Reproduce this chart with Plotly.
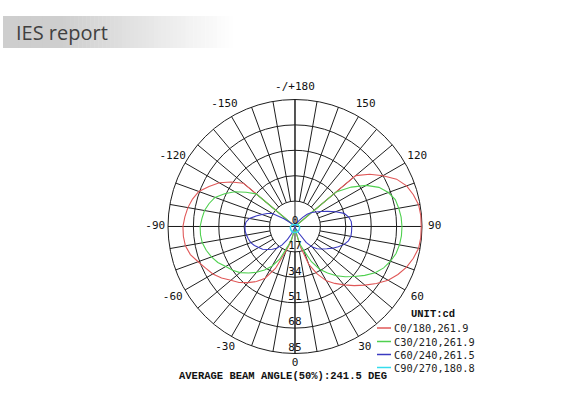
import plotly.graph_objects as go

# ---------------- data ----------------
angles = list(range(-180, 185, 5))

c0_180 = [0, 0, 0, 0, 0, 0, 0, 0, 0, 0,
          45, 52, 58.5, 63.5, 68.5, 71, 72.8, 74, 75, 75, 74.5, 72.5, 69, 66, 63.5, 60, 56, 53, 49, 45, 40, 31, 17, 10, 3, 1,
          0,
          1, 4, 14, 27, 35, 42, 46.5, 51, 56, 61, 66.5, 72, 76, 79.5, 82, 84, 84.5, 84.5, 84.5, 84, 82, 79.5, 75, 68, 61, 53,
          0, 0, 0, 0, 0, 0, 0, 0, 0, 0]

c30_210 = [0, 0, 0, 0, 0, 0, 0, 0, 0, 0,
           34, 40, 46.5, 52, 57, 59.5, 61.5, 62.5, 63.5, 63.5, 63, 61.5, 59.5, 57, 53.5, 51, 48, 44, 40, 35.5, 30.5, 24, 14, 9, 3, 1,
           0,
           1, 4, 12, 17, 26, 33, 38, 43, 47.5, 52, 57, 62, 65.5, 68, 70, 71, 71.5, 71.6, 71.3, 70.5, 69.5, 66.5, 62, 55, 46, 36,
           0, 0, 0, 0, 0, 0, 0, 0, 0, 0]

c60_240 = [0, 0, 0, 0, 0, 0, 0, 0,
           1, 2, 4, 9, 17.5, 20.5, 23.5, 27, 31, 33, 33.5, 33.5, 33, 32.3, 31.5, 30, 28, 26.5, 24, 21.5, 19, 15, 10, 5, 1, 0, 0, 0,
           0,
           0, 0.5, 1, 1.5, 2.5, 5, 13, 18, 21, 23.5, 26, 29, 32, 35, 37, 38, 38, 38, 37.8, 36.5, 34, 29, 24, 20, 17, 14.5,
           11.5, 8, 5, 3, 1.5, 0.5,
           0, 0, 0, 0]

c90_angles = [-180, -150, -120, -90, -60, -30, 0, 30, 60, 90, 120, 150, 180]
c90_270 = [1.3, 1.6, 2.3, 3.0, 3.4, 3.9, 4.0, 3.9, 3.4, 3.0, 2.3, 1.6, 1.3]

series_names = ["C0/180,261.9", "C30/210,261.9", "C60/240,261.5", "C90/270,180.8"]
series_colors = ["#e05858", "#4fd04f", "#3a3ac0", "#35dcec"]

ring_values = [17, 34, 51, 68, 85]
radial_labels = [0, 17, 34, 51, 68, 85]
angular_tickvals = [0, 30, 60, 90, 120, 150, 180, 210, 240, 270, 300, 330]
angular_ticktext = ["0", "30", "60", "90", "120", "150", "-/+180",
                    "-150", "-120", "-90", "-60", "-30"]
spoke_angles = list(range(0, 360, 10))

title_text = "IES report"
unit_text = "UNIT:cd"
footer_text = "AVERAGE BEAM ANGLE(50%):241.5 DEG"

# ---------------- figure ----------------
W, H = 562, 399


def px(x):
    return x / W


def py(y):
    return 1 - y / H


R_MAX = 85          # outer ring value
R_AXIS = 95         # radial range (room for the angle labels)
label_r = [91.5, 93.5, 94.5, 93.5, 94.5, 94.5, 93.5, 94.5, 94.5, 93.5, 94.5, 93.5]

fig = go.Figure()

GRID = "#1e1e1e"
# spokes (from first ring to outer ring)
sr, st = [], []
for a in spoke_angles:
    sr += [ring_values[0], R_MAX, None]
    st += [a, a, None]
fig.add_trace(go.Scatterpolar(r=sr, theta=st, mode="lines",
                              line=dict(color=GRID, width=1),
                              hoverinfo="skip", showlegend=False))
# main axes through the centre
fig.add_trace(go.Scatterpolar(r=[R_MAX, 0, R_MAX, None, R_MAX, 0, R_MAX],
                              theta=[0, 0, 180, None, 90, 90, 270],
                              mode="lines", line=dict(color=GRID, width=1),
                              hoverinfo="skip", showlegend=False))

curves = [(angles, c0_180), (angles, c30_210), (angles, c60_240)]
for (th, rr), name, col in zip(curves, series_names[:3], series_colors[:3]):
    fig.add_trace(go.Scatterpolar(r=rr, theta=th, mode="lines", name=name,
                                  line=dict(color=col, width=1.1),
                                  showlegend=False))
fig.add_trace(go.Scatterpolar(r=c90_270, theta=c90_angles, mode="lines",
                              name=series_names[3],
                              line=dict(color=series_colors[3], width=1.5, shape="spline"),
                              showlegend=False))

# radial labels along 0 deg
fig.add_trace(go.Scatterpolar(r=radial_labels, theta=[0] * len(radial_labels),
                              mode="text", text=[str(v) for v in radial_labels],
                              textposition="top center",
                              textfont=dict(family="DejaVu Sans Mono", size=11, color="#111"),
                              hoverinfo="skip", showlegend=False))

# angular labels, placed just outside the outer ring
fig.add_trace(go.Scatterpolar(r=label_r, theta=angular_tickvals,
                              mode="text", text=angular_ticktext,
                              textposition="middle center", cliponaxis=False,
                              textfont=dict(family="DejaVu Sans Mono", size=11, color="#111"),
                              hoverinfo="skip", showlegend=False))

cx, cy = 295, 226.5
rad = 127 * R_AXIS / R_MAX
fig.update_layout(
    width=W, height=H,
    margin=dict(l=0, r=0, t=0, b=0),
    paper_bgcolor="rgba(0,0,0,0)",
    plot_bgcolor="rgba(0,0,0,0)",
    showlegend=False,
    polar=dict(
        domain=dict(x=[px(cx - rad), px(cx + rad)], y=[py(cy + rad), py(cy - rad)]),
        bgcolor="rgba(0,0,0,0)",
        radialaxis=dict(range=[0, R_AXIS], tickvals=ring_values, showticklabels=False,
                        ticks="", showline=False, gridcolor=GRID, gridwidth=1),
        angularaxis=dict(rotation=-90, direction="counterclockwise",
                         tickvals=angular_tickvals, showticklabels=False,
                         showgrid=False, showline=False, ticks=""),
    ),
)

# header gradient bar
shapes = []
x_start, x_end, n = 3, 233, 58
step = (x_end - x_start) / n
for i in range(n):
    xa = x_start + i * step
    t = max(0.0, (xa - 60) / (x_end - 60))
    g = int(round(206 + (255 - 206) * t))
    shapes.append(dict(type="rect", xref="paper", yref="paper",
                       x0=px(xa), x1=px(xa + step + 0.5), y0=py(48), y1=py(16),
                       line=dict(width=0), fillcolor=f"rgb({g},{g},{g})", layer="below"))

annotations = [
    dict(text=title_text, x=px(14), y=py(32), xref="paper", yref="paper",
         xanchor="left", yanchor="middle", showarrow=False,
         font=dict(family="Open Sans", size=20, color="#404040")),
    dict(text="<b>" + unit_text + "</b>", x=px(433), y=py(314), xref="paper", yref="paper",
         xanchor="center", yanchor="middle", showarrow=False,
         font=dict(family="Liberation Mono", size=10.5, color="#111")),
    dict(text="<b>" + footer_text + "</b>", x=px(177), y=py(375.5), xref="paper", yref="paper",
         xanchor="left", yanchor="middle", showarrow=False,
         font=dict(family="Liberation Mono", size=10.5, color="#111")),
]

leg_y = [328, 341.5, 354.5, 367.5]
for name, col, yy in zip(series_names, series_colors, leg_y):
    shapes.append(dict(type="line", xref="paper", yref="paper",
                       x0=px(377), x1=px(391), y0=py(yy), y1=py(yy),
                       line=dict(color=col, width=1.5)))
    annotations.append(dict(text=name, x=px(392), y=py(yy), xref="paper", yref="paper",
                            xanchor="left", yanchor="middle", showarrow=False,
                            font=dict(family="DejaVu Sans Mono", size=10.3, color="#222")))

fig.update_layout(shapes=shapes, annotations=annotations)

fig.write_html("out.html", config=dict(displayModeBar=False))
